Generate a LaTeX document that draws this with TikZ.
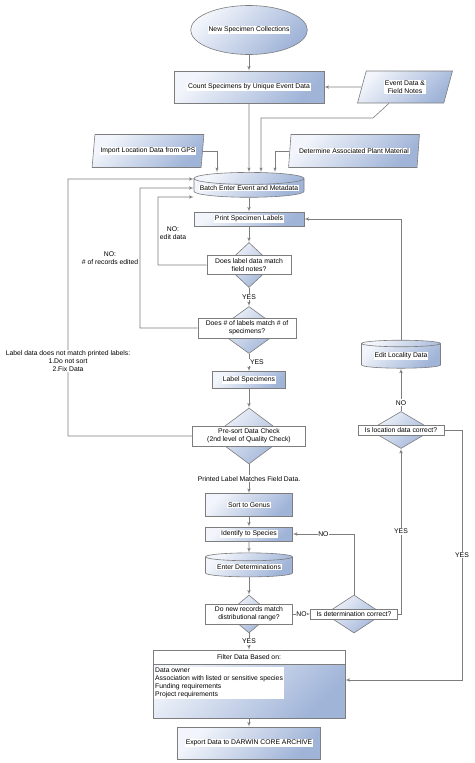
\documentclass[tikz,border=0pt]{standalone}
\usepackage{fontspec}
\setmainfont{Liberation Sans}
\usetikzlibrary{shapes.geometric, arrows, calc}
\definecolor{boxlight}{RGB}{242,245,251}
\definecolor{boxdark}{RGB}{160,180,216}
\definecolor{lineg}{RGB}{125,125,125}
\newcommand{\wb}[1]{{\setlength{\fboxsep}{0.8pt}\colorbox{white}{#1}}}
\newcommand{\wbb}[2]{\wb{\shortstack{#1\\#2}}}

\begin{document}
\begin{tikzpicture}[x=1pt,y=-1pt]

\tikzset{base/.style = {draw=lineg, line width=0.6pt, top color=boxlight, bottom color=boxdark, shading angle=45, font=\fontsize{6.8}{7.8}\selectfont, inner sep=0pt}}
\tikzset{box/.style = {base, rectangle}}
\tikzset{data/.style = {base, trapezium, trapezium left angle=72, trapezium right angle=108, trapezium stretches=true}}
\tikzset{store/.style = {base, cylinder, shape border rotate=90, aspect=0.12}}
\tikzset{decide/.style = {base, diamond}}
\tikzset{ask/.style = {draw=lineg, line width=0.6pt, fill=white, font=\fontsize{6.8}{7.8}\selectfont, align=center, inner sep=0pt}}
\tikzset{flow/.style = {draw=lineg, line width=0.6pt, -latex'}}
\tikzset{lbl/.style = {fill=white, inner sep=0.8pt, font=\fontsize{6.8}{7.8}\selectfont, align=center}}
\useasboundingbox (0,0) rectangle (474,763);

%shapes
\node[base, ellipse, minimum width=99, minimum height=49] (new) at (249,30) {\wb{New Specimen Collections}};
\node[box, minimum width=150, minimum height=32] (count) at (249,87) {\wb{Count Specimens by Unique Event Data}};
\node[data, minimum width=95, minimum height=32] (event) at (405,87) {\wbb{Event Data \&}{Field Notes}};
\node[data, minimum width=112, minimum height=33] (gps) at (148,151) {\wb{Import Location Data from GPS}};
\node[data, minimum width=131, minimum height=33] (plant) at (354,151) {\wb{Determine Associated Plant Material}};
\node[store, minimum width=110, minimum height=22] (batch) at (249,188) {\wb{Batch Enter Event and Metadata}};
\node[box, minimum width=110, minimum height=14] (print) at (249,219) {\wb{Print Specimen Labels}};
\node[decide, minimum width=48, minimum height=45] (dlabel) at (249,265) {};
\node[ask, minimum width=84, minimum height=19] (tlabel) at (249,265) {Does label data match\\field notes?};
\node[decide, minimum width=65, minimum height=47] (dnum) at (249,330) {};
\node[ask, minimum width=98, minimum height=20] (tnum) at (247,328) {Does \# of labels match \# of\\specimens?};
\node[box, minimum width=73, minimum height=17] (label) at (249,380) {\wb{Label Specimens}};
\node[decide, minimum width=75, minimum height=56] (dsort) at (249,436) {};
\node[ask, minimum width=113, minimum height=20] (tsort) at (249,436) {Pre-sort Data Check\\(2nd level of Quality Check)};
\node[box, minimum width=87, minimum height=23] (genus) at (249,505) {\wb{Sort to Genus}};
\node[box, minimum width=87, minimum height=14] (identify) at (249,534) {\wb{Identify to Species}};
\node[store, minimum width=87, minimum height=24] (enter) at (249,567) {\wb{Enter Determinations}};
\node[decide, minimum width=45, minimum height=38] (drange) at (249,614) {};
\node[ask, minimum width=87, minimum height=20] (trange) at (249,614) {Do new records match\\distributional range?};
\node[decide, minimum width=58, minimum height=38] (ddet) at (354,614) {};
\node[ask, minimum width=87, minimum height=10] (tdet) at (354,614) {Is determination correct?};
\node[decide, minimum width=63, minimum height=37] (dloc) at (401,430) {};
\node[ask, minimum width=86, minimum height=10] (tloc) at (401,430) {Is location data correct?};
\node[store, minimum width=79, minimum height=28] (locality) at (401,356) {\wb{Edit Locality Data}};
\node[box, minimum width=192, minimum height=68] (filter) at (249,684) {};
\node[ask, minimum width=192, minimum height=14] (fhead) at (249,657) {Filter Data Based on:};
\node[lbl, align=left, anchor=north west, inner sep=1pt] (flist) at (154,667) {Data owner\\Association with listed or sensitive species\\Funding requirements\\Project requirements};
\node[box, minimum width=143, minimum height=32] (export) at (249,743) {\wb{Export Data to DARWIN CORE ARCHIVE}};

%helper points
\coordinate (e1) at (373,118);
\coordinate (n1) at (158,197);
\coordinate (n2) at (140,188);
\coordinate (n3) at (68,179);
\coordinate (y1) at (462,680);

%edges
\draw[flow] (new) -- (count);
\draw[flow] (event) -- (count);
\draw[flow] ([xshift=-16pt]event.south) -- (e1) -| ([xshift=12pt]batch.north);
\draw[flow] (count) -- (batch);
\draw[flow] (gps.east) -| ([xshift=-32pt]batch.north);
\draw[flow] (plant.west) -| ([xshift=26pt]batch.north);
\draw[flow] (batch) -- (print);
\draw[flow] (print) -- (dlabel);
\draw[flow] (tlabel.west) -| (n1) -- ([yshift=-9pt]batch.west);
\draw[flow] (dlabel) -- node[lbl] {YES} (dnum);
\draw[flow] (tnum.west) -| (n2) -- (batch.west);
\draw[flow] (dnum) -- node[lbl, right] {YES} (label);
\draw[flow] (label) -- (dsort);
\draw[flow] (tsort.west) -| (n3) -- ([yshift=9pt]batch.west);
\draw[flow] (dsort) -- node[lbl] {Printed Label Matches Field Data.} (genus);
\draw[flow] (genus) -- (identify);
\draw[flow] (identify) -- (enter);
\draw[flow] (enter) -- (drange);
\draw[flow] (trange.east) -- node[lbl] {NO} (tdet.west);
\draw[flow] (ddet.north) |- node[lbl, pos=0.75] {NO} (identify.east);
\draw[flow] (tdet.east) -| node[lbl, pos=0.75] {YES} (dloc.south);
\draw[flow] (dloc.north) -- node[lbl, pos=0.2] {NO} (locality.south);
\draw[flow] (locality.north) |- (print.east);
\draw[flow] (tloc.east) -| node[lbl, pos=0.75] {YES} (y1) -- ([yshift=4pt]filter.east);
\draw[flow] (drange) -- node[lbl] {YES} (fhead);
\draw[flow] (filter) -- (export);

%notes
\node[lbl] (noedit) at (173,233) {NO:\\edit data};
\node[lbl] (norecords) at (110,258) {NO:\\\# of records edited};
\node[lbl] (nomatch) at (68,361) {Label data does not match printed labels:\\1.Do not sort\\2.Fix Data};

\end{tikzpicture}
\end{document}
